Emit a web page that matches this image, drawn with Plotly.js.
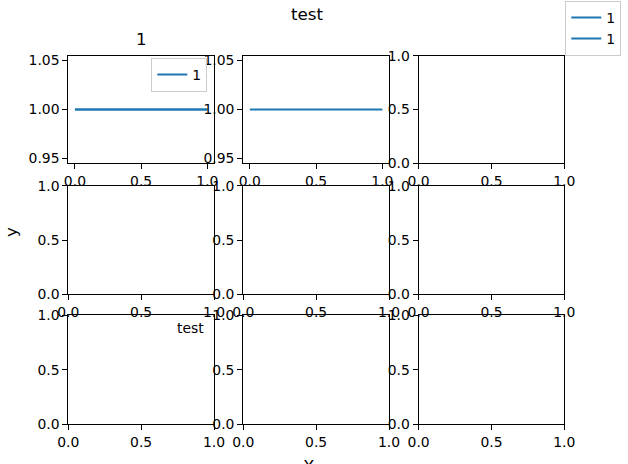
<!DOCTYPE html>
<html>
<head>
<meta charset="utf-8">
<script src="https://cdn.plot.ly/plotly-3.0.1.min.js"></script>
<style>html,body{margin:0;padding:0;background:#fff}#chart{width:628px;height:464px}</style>
</head>
<body>
<div id="chart"></div>
<script>
// ---- data ----
const lineX = [0, 1];
const line1Y = [1, 1];
const line2Y = [1, 1];
const seriesName = '1';
const unitTicks = [0, 0.5, 1];
const unitTickText = ['0.0', '0.5', '1.0'];
const flatYTicks = [0.95, 1.0, 1.05];
const flatYTickText = ['0.95', '1.00', '1.05'];
const suptitle = 'test';
const subTitle = '1';
const innerText = 'test';
const xLabel = 'X';
const yLabel = 'y';

// ---- layout geometry (pixels) ----
const W = 628, H = 464;
const colPx = [[68.3, 214.0], [243.2, 389.0], [418.6, 564.3]];
const rowPx = [[55.7, 163.3], [185.7, 294.3], [315.2, 424.3]];
const px2x = p => p / W;
const px2y = p => 1 - p / H;
const C0 = '#1f77b4';
const FONT = 'DejaVu Sans, sans-serif';

const layout = {
  width: W, height: H,
  margin: {l: 0, r: 0, t: 0, b: 0, pad: 0},
  paper_bgcolor: '#fff', plot_bgcolor: '#fff',
  font: {family: FONT, size: 13.9, color: '#000'},
  title: {text: suptitle, font: {family: FONT, size: 16.7, color: '#000'},
          x: px2x(307), xanchor: 'center', y: px2y(8), yanchor: 'top', xref: 'paper', yref: 'container'},
  showlegend: true,
  legend: {x: px2x(207.3), xanchor: 'right', y: px2y(58), yanchor: 'top',
           bordercolor: '#cccccc', borderwidth: 1, bgcolor: 'rgba(255,255,255,0.8)',
           font: {family: FONT, size: 13.9, color: '#000'}, itemwidth: 30},
  legend2: {x: px2x(621.3), xanchor: 'right', y: px2y(1), yanchor: 'top',
           bordercolor: '#cccccc', borderwidth: 1, bgcolor: 'rgba(255,255,255,0.8)',
           font: {family: FONT, size: 13.9, color: '#000'}, itemwidth: 30},
  annotations: [],
  hovermode: false
};

function axisBase() {
  return {
    showgrid: false, zeroline: false, showline: true, mirror: true,
    linecolor: '#000', linewidth: 1, ticks: 'outside', ticklen: 5, tickwidth: 1,
    tickcolor: '#000', tickfont: {family: FONT, size: 13.9, color: '#000'},
    fixedrange: true
  };
}

const traces = [];
const lineStyle = {color: C0, width: 2};

for (let r = 0; r < 3; r++) {
  for (let c = 0; c < 3; c++) {
    const i = r * 3 + c + 1;
    const sfx = i === 1 ? '' : String(i);
    const xa = axisBase();
    const ya = axisBase();
    xa.domain = [px2x(colPx[c][0]), px2x(colPx[c][1])];
    ya.domain = [px2y(rowPx[r][1]), px2y(rowPx[r][0])];
    xa.anchor = 'y' + sfx;
    ya.anchor = 'x' + sfx;
    if (i <= 2) {
      xa.range = [-0.05, 1.05];
      ya.range = [0.945, 1.055];
      ya.tickvals = flatYTicks; ya.ticktext = flatYTickText; ya.tickmode = 'array';
    } else {
      xa.range = [0, 1];
      ya.range = [0, 1];
      ya.tickvals = unitTicks; ya.ticktext = unitTickText; ya.tickmode = 'array';
      // empty trace so the (empty) subplot is drawn
      traces.push({x: [], y: [], xaxis: 'x' + sfx, yaxis: 'y' + sfx, mode: 'lines',
                   showlegend: false, hoverinfo: 'skip'});
    }
    xa.tickvals = unitTicks; xa.ticktext = unitTickText; xa.tickmode = 'array';
    layout['xaxis' + sfx] = xa;
    layout['yaxis' + sfx] = ya;
  }
}

layout.annotations.push(
  {text: subTitle, xref: 'paper', yref: 'paper', x: px2x(141.2), y: px2y(38.5),
   xanchor: 'center', yanchor: 'middle', showarrow: false, font: {family: FONT, size: 16.7, color: '#000'}},
  {text: innerText, xref: 'paper', yref: 'paper', x: px2x(206), y: px2y(328.3),
   xanchor: 'right', yanchor: 'middle', showarrow: false, font: {family: FONT, size: 13.9, color: '#000'}},
  {text: xLabel, xref: 'paper', yref: 'paper', x: px2x(308.5), y: px2y(454),
   xanchor: 'center', yanchor: 'top', showarrow: false, font: {family: FONT, size: 16.7, color: '#000'}},
  {text: yLabel, xref: 'paper', yref: 'paper', x: px2x(11), y: px2y(232),
   xanchor: 'center', yanchor: 'middle', textangle: -90, showarrow: false, font: {family: FONT, size: 16.7, color: '#000'}}
);

traces.push(
  {x: lineX, y: line1Y, xaxis: 'x', yaxis: 'y', mode: 'lines', line: lineStyle, name: seriesName, legend: 'legend'},
  {x: lineX, y: line1Y, xaxis: 'x', yaxis: 'y', mode: 'lines', line: lineStyle, name: seriesName, legend: 'legend2'},
  {x: lineX, y: line2Y, xaxis: 'x2', yaxis: 'y2', mode: 'lines', line: lineStyle, name: seriesName, legend: 'legend2'}
);

Plotly.newPlot('chart', traces, layout, {staticPlot: true, displayModeBar: false});
</script>
</body>
</html>
